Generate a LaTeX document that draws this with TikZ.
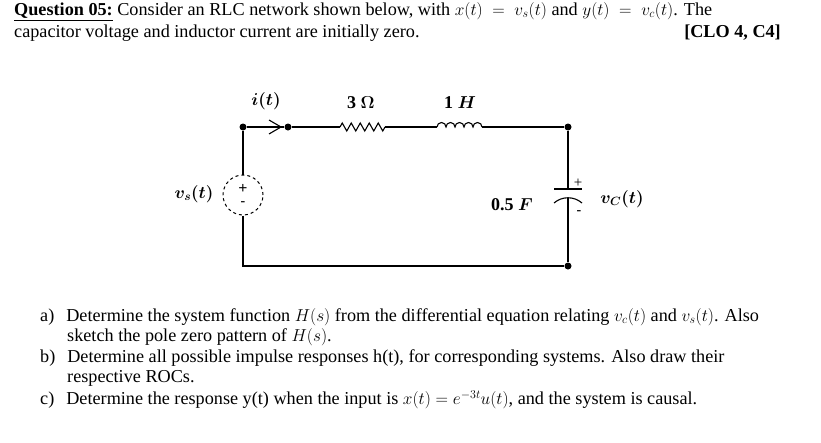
\documentclass[tikz,border=0pt]{standalone}
\usepackage{amsmath,amssymb}
\usepackage{bm}
\usepackage{fontspec}
\setmainfont{Liberation Serif}
\usetikzlibrary{decorations.pathmorphing}
\begin{document}
\begin{tikzpicture}[x=1pt,y=-1pt,
  txt/.style={anchor=west,inner sep=0pt,font=\fontsize{18.2}{20}\selectfont},
  lbl/.style={inner sep=0pt,font=\bfseries\fontsize{18}{20}\selectfont},
  dotn/.style={circle,fill=black,inner sep=0pt,minimum size=7pt},
  wire/.style={line width=1.1pt}]
\useasboundingbox (0,0) rectangle (821,442);
% text
\node[txt] (q1) at (14,12) {\underline{\textbf{Question 05:}} Consider an RLC network shown below, with $x(t)\;=\;v_s(t)$ and $y(t)\;=\;v_c(t)$. The};
\node[txt] (q2) at (14,33) {capacitor voltage and inductor current are initially zero.};
\node[txt,anchor=east] (clo) at (781,33) {\textbf{[CLO 4, C4]}};
\node[txt] (a1) at (40,317) {a)\hspace{12pt}Determine the system function $H(s)$ from the differential equation relating $v_c(t)$ and $v_s(t)$. Also};
\node[txt] (a2) at (67,337) {sketch the pole zero pattern of $H(s)$.};
\node[txt] (b1) at (40,358) {b)\hspace{12pt}Determine all possible impulse responses h(t), for corresponding systems. Also draw their};
\node[txt] (b2) at (67,378) {respective ROCs.};
\node[txt] (c1) at (40,400) {c)\hspace{12pt}Determine the response y(t) when the input is $x(t)=e^{-3t}u(t)$, and the system is causal.};
% circuit
\node[dotn] (tl) at (243,127) {};
\node[dotn] (n2) at (288,127) {};
\node[dotn] (tr) at (568,127) {};
\node[dotn] (br) at (568,266) {};
\coordinate (bl) at (243,266);
\node[circle,draw,dashed,line width=1pt,minimum size=40pt,inner sep=0pt] (src) at (243,195) {};
\node[font=\bfseries\fontsize{16}{16}\selectfont,inner sep=0pt] at (243,189) {+};
\node[font=\bfseries\fontsize{14}{14}\selectfont,inner sep=0pt] at (243,204) {-};
\draw[wire] (tl) -- (src.north);
\draw[wire] (src.south) -- (bl) -- (br);
\draw[wire] (tl) -- (n2);
\draw[wire] (269,120) -- (281,127) -- (269,134);
\coordinate (r1) at (340,127); \coordinate (r2) at (385,127);
\coordinate (l1) at (437,127); \coordinate (l2) at (482,127);
\draw[wire] (n2) -- (r1);
\draw[wire,decoration={zigzag,segment length=9pt,amplitude=4pt},decorate] (r1) -- (r2);
\draw[wire] (r2) -- (l1);
\draw[wire] (l1) \foreach \i in {0,...,4} { arc[start angle=180,end angle=0,radius=4.5pt] };
\draw[wire] (l2) -- (tr);
\coordinate (c1t) at (568,189); \coordinate (c2t) at (568,198);
\draw[wire] (tr) -- (c1t);
\draw[wire] (554,189) -- (582,189);
\draw[wire] (554,203) .. controls (562,196) and (574,196) .. (582,203);
\draw[wire] (c2t) -- (br);
\node[font=\fontsize{15}{15}\selectfont,inner sep=0pt] at (578,183) {+};
\node[font=\bfseries\fontsize{14}{14}\selectfont,inner sep=0pt] at (579,213) {-};
\node[lbl] (it) at (266,101) {$\bm{i(t)}$};
\node[lbl] (rl) at (361,103) {3 $\bm{\Omega}$};
\node[lbl] (ll) at (460,103) {1 $\bm{H}$};
\node[lbl] (vs) at (194,194) {$\bm{v_s(t)}$};
\node[lbl] (cl) at (512,205) {0.5 $\bm{F}$};
\node[lbl] (vc) at (622,199) {$\bm{v_C(t)}$};
\end{tikzpicture}
\end{document}
